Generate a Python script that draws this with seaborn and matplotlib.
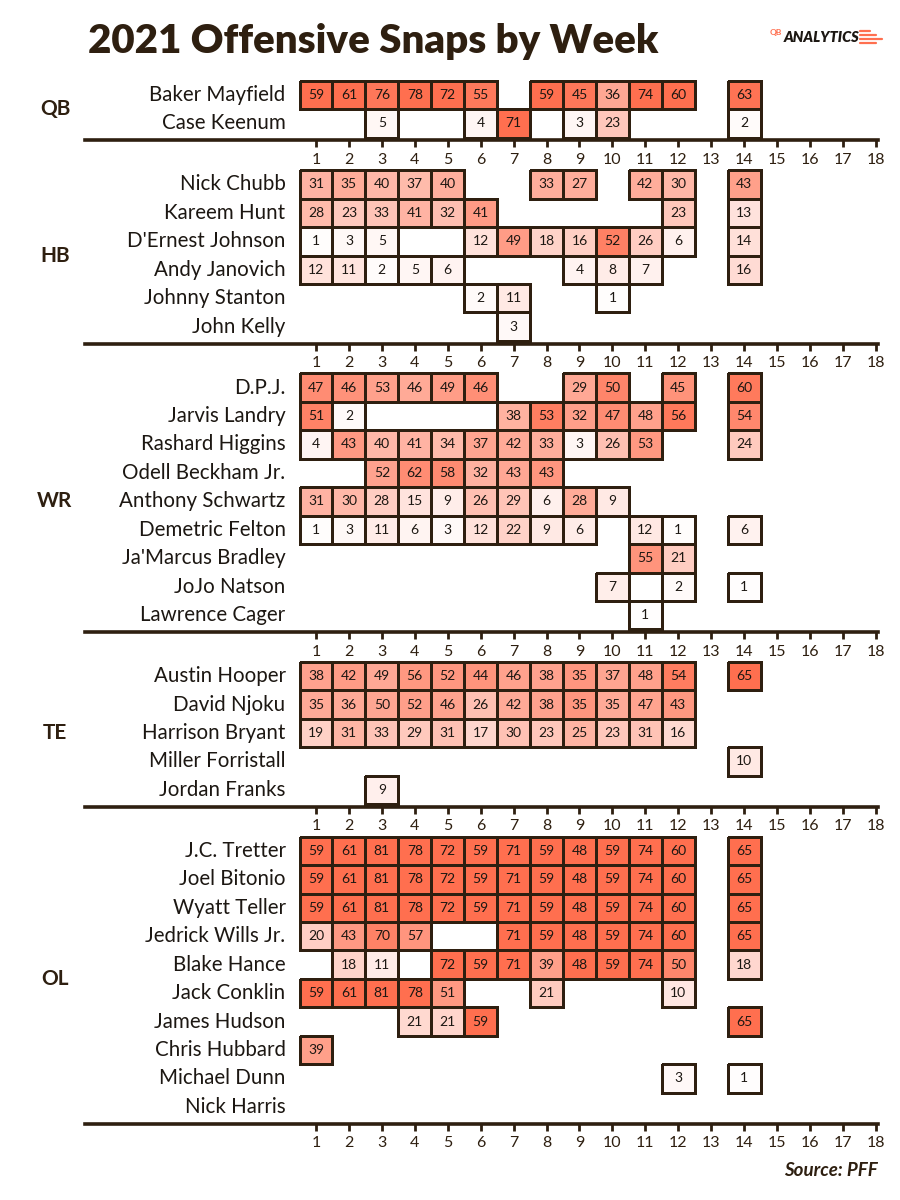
import numpy as np
import pandas as pd
import matplotlib
matplotlib.use("Agg")
import matplotlib.pyplot as plt
import matplotlib.transforms as mtransforms
from matplotlib.colors import LinearSegmentedColormap, to_rgba
from matplotlib.lines import Line2D
import seaborn as sns

sns.set_style("white")
plt.rcParams["font.family"] = ["Lato", "DejaVu Sans"]

BROWN = "#2e1f10"
INK = "#1c1712"
ORANGE = "#ff6f4f"

weeks = list(range(1, 19))
# team offensive snaps per week (full-game OL count), used for the colour shade
team_snaps = [59, 61, 81, 78, 72, 59, 71, 59, 48, 59, 74, 60, None, 65, None, None, None, None]

N = None
qb_names = ["Baker Mayfield", "Case Keenum"]
qb_snaps = [
    [59, 61, 76, 78, 72, 55, N, 59, 45, 36, 74, 60, N, 63],
    [N, N, 5, N, N, 4, 71, N, 3, 23, N, N, N, 2],
]

hb_names = ["Nick Chubb", "Kareem Hunt", "D'Ernest Johnson", "Andy Janovich",
            "Johnny Stanton", "John Kelly"]
hb_snaps = [
    [31, 35, 40, 37, 40, N, N, 33, 27, N, 42, 30, N, 43],
    [28, 23, 33, 41, 32, 41, N, N, N, N, N, 23, N, 13],
    [1, 3, 5, N, N, 12, 49, 18, 16, 52, 26, 6, N, 14],
    [12, 11, 2, 5, 6, N, N, N, 4, 8, 7, N, N, 16],
    [N, N, N, N, N, 2, 11, N, N, 1],
    [N, N, N, N, N, N, 3],
]

wr_names = ["D.P.J.", "Jarvis Landry", "Rashard Higgins", "Odell Beckham Jr.",
            "Anthony Schwartz", "Demetric Felton", "Ja'Marcus Bradley",
            "JoJo Natson", "Lawrence Cager"]
wr_snaps = [
    [47, 46, 53, 46, 49, 46, N, N, 29, 50, N, 45, N, 60],
    [51, 2, N, N, N, N, 38, 53, 32, 47, 48, 56, N, 54],
    [4, 43, 40, 41, 34, 37, 42, 33, 3, 26, 53, N, N, 24],
    [N, N, 52, 62, 58, 32, 43, 43],
    [31, 30, 28, 15, 9, 26, 29, 6, 28, 9],
    [1, 3, 11, 6, 3, 12, 22, 9, 6, N, 12, 1, N, 6],
    [N, N, N, N, N, N, N, N, N, N, 55, 21],
    [N, N, N, N, N, N, N, N, N, 7, N, 2, N, 1],
    [N, N, N, N, N, N, N, N, N, N, 1],
]

te_names = ["Austin Hooper", "David Njoku", "Harrison Bryant", "Miller Forristall",
            "Jordan Franks"]
te_snaps = [
    [38, 42, 49, 56, 52, 44, 46, 38, 35, 37, 48, 54, N, 65],
    [35, 36, 50, 52, 46, 26, 42, 38, 35, 35, 47, 43],
    [19, 31, 33, 29, 31, 17, 30, 23, 25, 23, 31, 16],
    [N, N, N, N, N, N, N, N, N, N, N, N, N, 10],
    [N, N, 9],
]

ol_names = ["J.C. Tretter", "Joel Bitonio", "Wyatt Teller", "Jedrick Wills Jr.",
            "Blake Hance", "Jack Conklin", "James Hudson", "Chris Hubbard",
            "Michael Dunn", "Nick Harris"]
ol_snaps = [
    [59, 61, 81, 78, 72, 59, 71, 59, 48, 59, 74, 60, N, 65],
    [59, 61, 81, 78, 72, 59, 71, 59, 48, 59, 74, 60, N, 65],
    [59, 61, 81, 78, 72, 59, 71, 59, 48, 59, 74, 60, N, 65],
    [20, 43, 70, 57, N, N, 71, 59, 48, 59, 74, 60, N, 65],
    [N, 18, 11, N, 72, 59, 71, 39, 48, 59, 74, 50, N, 18],
    [59, 61, 81, 78, 51, N, N, 21, N, N, N, 10],
    [N, N, N, 21, 21, 59, N, N, N, N, N, N, N, 65],
    [39],
    [N, N, N, N, N, N, N, N, N, N, N, 3, N, 1],
    [],
]

sections = [("QB", qb_names, qb_snaps), ("HB", hb_names, hb_snaps),
            ("WR", wr_names, wr_snaps), ("TE", te_names, te_snaps),
            ("OL", ol_names, ol_snaps)]

cmap = LinearSegmentedColormap.from_list("snap", ["#ffffff", ORANGE])
team = pd.Series(team_snaps, index=weeks, dtype=float)

W, H = 900, 1200
fig = plt.figure(figsize=(9, 12), dpi=100)

X0, COL_W, ROW_H = 299.5, 32.94, 28.45
top = 80.75
for pos, names, snaps in sections:
    rows = [[np.nan if v is None else v for v in r] + [np.nan] * (18 - len(r)) for r in snaps]
    df = pd.DataFrame(rows, index=names, columns=weeks, dtype=float)
    pct = df.div(team, axis=1)
    mask = df.isna()

    h = len(names) * ROW_H
    ax = fig.add_axes([X0 / W, 1 - (top + h) / H, 18 * COL_W / W, h / H])
    sns.heatmap(pct, mask=mask, annot=df, fmt=".0f", cmap=cmap, vmin=0, vmax=1,
                cbar=False, linewidths=1.9, linecolor=BROWN, yticklabels=True,
                annot_kws={"size": 10, "color": INK}, ax=ax)
    mesh = ax.collections[0]
    mesh.set_clip_on(False)
    # no outline on empty weeks
    edge = np.array([(0, 0, 0, 0) if m else to_rgba(BROWN) for m in mask.values.ravel()])
    mesh.set_edgecolor(edge)
    for t in ax.texts:
        t.set_clip_on(False)

    ax.set_xlabel("")
    ax.set_ylabel("")
    ax.set_yticklabels(names, rotation=0, fontsize=14.8, color=INK)
    ax.tick_params(axis="y", length=0, pad=10)

    sp = ax.spines["bottom"]
    sp.set_visible(True)
    sp.set_position(("outward", 2))
    sp.set_bounds(-6.51, 17.56)
    sp.set_linewidth(2.6)
    sp.set_color(BROWN)
    ax.set_xticks(np.arange(18) + 0.5)
    ax.set_xticklabels(weeks, rotation=0)
    ax.tick_params(axis="x", bottom=True, length=5, width=2, color=BROWN,
                   labelsize=11.5, labelcolor=BROWN, pad=4)

    tr = mtransforms.blended_transform_factory(fig.transFigure, ax.transAxes)
    ax.text(55 / W, 0.5, pos, transform=tr, ha="center", va="center",
            fontsize=15, fontweight="bold", color=BROWN)

    top += h + 32.5

fig.text(88 / W, 1 - 42 / H, "2021 Offensive Snaps by Week", ha="left", va="center",
         fontsize=29, fontweight="heavy", color=BROWN)
fig.text(878 / W, 1 - 1171 / H, "Source: PFF", ha="right", va="center",
         fontsize=13.5, fontweight="bold", style="italic", color=BROWN)

# logo
fig.text(782 / W, 1 - 33 / H, "QB", ha="right", va="center", fontsize=6,
         fontweight="bold", color=ORANGE)
fig.text(784 / W, 1 - 37 / H, "ANALYTICS", ha="left", va="center", fontsize=10.5,
         fontweight="heavy", style="italic", color=INK)
for i, x2 in enumerate([870, 876, 882, 876]):
    yy = 1 - (31 + i * 4) / H
    fig.add_artist(Line2D([860 / W, x2 / W], [yy, yy], color=ORANGE, lw=1.6))

fig.savefig("out.png", dpi=100, facecolor="white")
